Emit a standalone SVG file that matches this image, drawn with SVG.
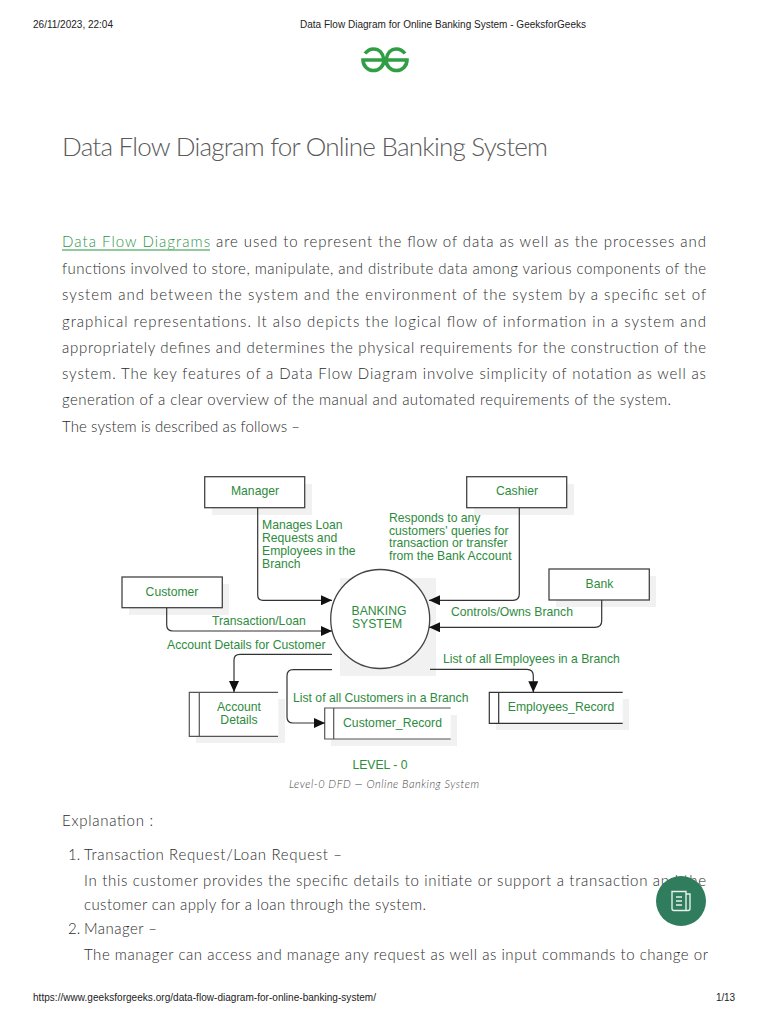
<svg xmlns="http://www.w3.org/2000/svg" width="768" height="1024" viewBox="0 0 768 1024">
<style>
.hd{font:10px "Liberation Sans",Arial,sans-serif;fill:#222}
.b{font:300 15px Lato,"Open Sans",sans-serif;fill:#2c2c2c}
.t{font:300 26px Lato,"Open Sans",sans-serif;fill:#5a5a5a}
.g{font:12.200px "Liberation Sans",Arial,sans-serif;fill:#2e8b3d}
.m{text-anchor:middle}
.box{fill:#fff;stroke:#444;stroke-width:1.300}
.sh{fill:#f1f1f1;stroke:none}
.ln{fill:none;stroke:#333;stroke-width:1.200}
.cap{font:italic 300 11px Lato,sans-serif;fill:#444;text-anchor:middle}
</style>
<defs>
<marker id="a" markerUnits="userSpaceOnUse" markerWidth="11" markerHeight="10" refX="11" refY="5" orient="auto"><path d="M0 0L11 5L0 10z" fill="#111"/></marker>
</defs>
<rect width="768" height="1024" fill="#fff"/>
<g id="page-header">
<text class="hd" x="33" y="28" textLength="80">26/11/2023, 22:04</text>
<text class="hd" x="300" y="28" textLength="286">Data Flow Diagram for Online Banking System - GeeksforGeeks</text>
<path id="logo" d="M384 60A10.500 10.500 0 0 1 363 60H384M384 60C383 53 379 49 373.500 49C369.500 49 367 51 365 53.500M386 60A10.500 10.500 0 0 0 407 60H386M386 60C387 53 391 49 396.500 49C400.500 49 403 51 405 53.500" fill="none" stroke="#2f9e44" stroke-width="3.600"/>
</g>
<text class="t" x="62" y="156" textLength="486" lengthAdjust="spacing">Data Flow Diagram for Online Banking System</text>
<g id="intro">
<text class="b" x="62" y="247" style="fill:#2f9448" textLength="148">Data Flow Diagrams</text>
<line x1="62" y1="250" x2="210" y2="250" stroke="#6cba7d" stroke-width="1.300"/>
<text class="b" x="216" y="247" textLength="490">are used to represent the flow of data as well as the processes and</text>
<text class="b" x="62" y="274" textLength="644">functions involved to store, manipulate, and distribute data among various components of the</text>
<text class="b" x="62" y="300" textLength="644">system and between the system and the environment of the system by a specific set of</text>
<text class="b" x="62" y="327" textLength="644">graphical representations. It also depicts the logical flow of information in a system and</text>
<text class="b" x="62" y="353" textLength="644">appropriately defines and determines the physical requirements for the construction of the</text>
<text class="b" x="62" y="379" textLength="644">system. The key features of a Data Flow Diagram involve simplicity of notation as well as</text>
<text class="b" x="62" y="405" textLength="609">generation of a clear overview of the manual and automated requirements of the system.</text>
<text class="b" x="62" y="432" textLength="238">The system is described as follows –</text>
</g>
<g id="manager"><rect class="sh" x="212" y="484" width="100" height="31"/><rect class="box" x="204.700" y="476.700" width="100" height="31"/><text class="g m" x="255" y="495">Manager</text></g>
<g id="customer"><rect class="sh" x="129" y="584" width="100" height="31"/><rect class="box" x="122" y="577" width="100.300" height="30.700"/><text class="g m" x="172" y="596">Customer</text></g>
<g id="cashier"><rect class="sh" x="474" y="484" width="100" height="31"/><rect class="box" x="466.700" y="476.700" width="100" height="31"/><text class="g m" x="517" y="495">Cashier</text></g>
<g id="bank"><rect class="sh" x="556" y="576" width="100" height="31"/><rect class="box" x="549" y="569" width="100.300" height="31"/><text class="g m" x="599.500" y="588">Bank</text></g>
<g id="banking-system"><rect class="sh" x="340" y="578" width="96" height="98"/><circle cx="380.200" cy="619" r="49.500" fill="#fff" stroke="#444" stroke-width="1.300"/><text class="g m" x="379" y="615">BANKING</text><text class="g m" x="377" y="628">SYSTEM</text></g>
<g id="account-details"><rect class="sh" x="196" y="699" width="89" height="44"/><rect x="189.300" y="692.300" width="89" height="44" fill="#fff"/><path class="ln" d="M278 692.300H189.300V736.300H278M199.300 692.300V736.300" style="stroke:#555"/><text class="g m" x="239" y="711">Account</text><text class="g m" x="239" y="724">Details</text></g>
<g id="customer-record"><rect class="sh" x="331" y="715" width="126" height="31"/><rect x="324.700" y="708" width="126" height="31" fill="#fff"/><path class="ln" d="M450.700 708H324.700V739H450.700M333.700 708V739" style="stroke:#555"/><text class="g m" x="392.500" y="727">Customer_Record</text></g>
<g id="employees-record"><rect class="sh" x="496" y="699" width="133" height="31"/><rect x="489.300" y="692.300" width="133.400" height="31" fill="#fff"/><path class="ln" d="M622.700 692.300H489.300V723.300H622.700M498.700 692.300V723.300"/><text class="g m" x="561" y="711">Employees_Record</text></g>
<g id="connectors">
<path class="ln" d="M257.700 508V595Q257.700 600.300 263 600.300H332" marker-end="url(#a)"/>
<path class="ln" d="M166.700 608V625Q166.700 631 173 631H332" marker-end="url(#a)"/>
<path class="ln" d="M332 654.300H240Q234 654.300 234 660V692" marker-end="url(#a)"/>
<path class="ln" d="M332 669.700H293Q287 669.700 287 676V717Q287 723 293 723H325" marker-end="url(#a)"/>
<path class="ln" d="M519.300 508V594Q519.300 600.300 513 600.300H429" marker-end="url(#a)"/>
<path class="ln" d="M601.700 600V621Q601.700 627.300 595 627.300H429" marker-end="url(#a)"/>
<path class="ln" d="M430 669.300H527Q533.300 669.300 533.300 676V692.300" marker-end="url(#a)"/>
</g>
<g id="labels">
<text class="g" x="262" y="529">Manages Loan</text><text class="g" x="262" y="542">Requests and</text><text class="g" x="262" y="554.500">Employees in the</text><text class="g" x="262" y="567.500">Branch</text>
<text class="g" x="389" y="522">Responds to any</text><text class="g" x="389" y="534.500">customers' queries for</text><text class="g" x="389" y="547">transaction or transfer</text><text class="g" x="389" y="559.500">from the Bank Account</text>
<text class="g" x="212" y="625">Transaction/Loan</text>
<text class="g" x="167" y="649">Account Details for Customer</text>
<text class="g" x="293" y="702">List of all Customers in a Branch</text>
<text class="g" x="443" y="663">List of all Employees in a Branch</text>
<text class="g" x="451" y="616">Controls/Owns Branch</text>
<text class="g m" x="380" y="769">LEVEL - 0</text>
</g>
<text class="cap" x="384" y="788" textLength="190">Level-0 DFD — Online Banking System</text>
<g id="explanation">
<text class="b" x="62" y="826" textLength="91">Explanation :</text>
<text class="b" x="68" y="860">1.</text><text class="b" x="84" y="860" textLength="258">Transaction Request/Loan Request –</text>
<text class="b" x="84" y="886" textLength="622">In this customer provides the specific details to initiate or support a transaction and the</text>
<text class="b" x="84" y="910" textLength="342">customer can apply for a loan through the system.</text>
<text class="b" x="68" y="934">2.</text><text class="b" x="84" y="934" textLength="73">Manager –</text>
<text class="b" x="84" y="960" textLength="624">The manager can access and manage any request as well as input commands to change or</text>
</g>
<g id="fab"><circle cx="681" cy="901" r="25" fill="#2f7d5c"/><path d="M672 891.500H686V910.500H674Q672 910.500 672 908.500ZM686 894H690V908.500Q690 910.500 688 910.500H686M676 897H682M676 901H682M676 905H682" fill="none" stroke="#e6f0ec" stroke-width="1.400"/></g>
<g id="page-footer">
<text class="hd" x="33" y="1001" textLength="343">https://www.geeksforgeeks.org/data-flow-diagram-for-online-banking-system/</text>
<text class="hd" x="716" y="1001" textLength="19">1/13</text>
</g>
</svg>
